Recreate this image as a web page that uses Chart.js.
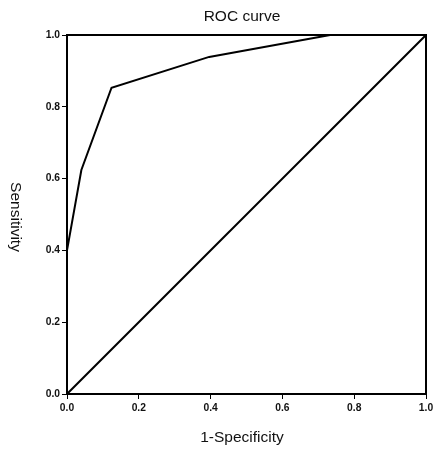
<!DOCTYPE html>
<html>
<head>
<meta charset="utf-8">
<script src="https://cdn.jsdelivr.net/npm/chart.js@4/dist/chart.umd.min.js"></script>
<style>
html,body{margin:0;padding:0;background:#fff;}
#wrap{width:447px;height:454px;position:relative;}
</style>
</head>
<body>
<div id="wrap"><canvas id="c" width="447" height="454"></canvas></div>
<script>
const rocFpr = [0, 0, 0.04, 0.124, 0.396, 0.733, 1];
const rocTpr = [0, 0.40, 0.624, 0.853, 0.939, 1, 1];
const refFpr = [0, 1];
const refTpr = [0, 1];
const tickValues = [0, 0.2, 0.4, 0.6, 0.8, 1.0];
const chartTitle = 'ROC curve';
const xTitle = '1-Specificity';
const yTitle = 'Sensitivity';

const toPts = (xs, ys) => xs.map((x, i) => ({x: x, y: ys[i]}));
const FONT = 'Liberation Sans, Arial, sans-serif';
const TITLE_FONT = '15.5px ' + FONT;

const frame = {
  id: 'frame',
  beforeDraw(chart) {
    const ctx = chart.ctx;
    ctx.save();
    ctx.fillStyle = '#fff';
    ctx.fillRect(0, 0, chart.width, chart.height);
    ctx.restore();
  },
  afterDatasetsDraw(chart) {
    const {ctx, chartArea: a} = chart;
    ctx.save();
    ctx.strokeStyle = '#000';
    ctx.lineWidth = 2;
    ctx.strokeRect(a.left, a.top, a.right - a.left, a.bottom - a.top);
    ctx.restore();
  },
  afterDraw(chart) {
    const {ctx, chartArea: a} = chart;
    const cx = (a.left + a.right) / 2 - 4.5;
    ctx.save();
    ctx.fillStyle = '#111';
    ctx.font = TITLE_FONT;
    ctx.textAlign = 'center';
    ctx.textBaseline = 'middle';
    ctx.fillText(chartTitle, cx, 17);
    ctx.fillText(xTitle, cx, 438);
    ctx.translate(15, (a.top + a.bottom) / 2 + 2.5);
    ctx.rotate(Math.PI / 2);
    ctx.fillText(yTitle, 0, 0);
    ctx.restore();
  }
};

const tickCommon = {
  color: '#111',
  font: {family: FONT, size: 10.3, weight: 'bold'},
  callback: v => Number(v).toFixed(1),
  autoSkip: false
};

new Chart(document.getElementById('c'), {
  type: 'line',
  data: {
    datasets: [
      {data: toPts(rocFpr, rocTpr), borderColor: '#000', borderWidth: 2, pointRadius: 0, tension: 0, fill: false},
      {data: toPts(refFpr, refTpr), borderColor: '#000', borderWidth: 2, pointRadius: 0, tension: 0, fill: false}
    ]
  },
  options: {
    responsive: false,
    animation: false,
    devicePixelRatio: 1,
    layout: {padding: {left: 0, right: 21, top: 35, bottom: 0}},
    plugins: {
      legend: {display: false},
      tooltip: {enabled: false},
      title: {display: false}
    },
    scales: {
      x: {
        type: 'linear', min: 0, max: 1,
        afterBuildTicks: s => { s.ticks = tickValues.map(v => ({value: v})); },
        afterFit: s => { s.height = 60; },
        ticks: Object.assign({padding: 3, maxRotation: 0}, tickCommon),
        grid: {drawOnChartArea: false, drawTicks: true, tickLength: 5, color: '#000', lineWidth: 1},
        border: {display: true, color: '#000', width: 2},
        title: {display: false}
      },
      y: {
        type: 'linear', min: 0, max: 1,
        afterBuildTicks: s => { s.ticks = tickValues.map(v => ({value: v})); },
        afterFit: s => { s.width = 67; },
        ticks: Object.assign({padding: 2}, tickCommon),
        grid: {drawOnChartArea: false, drawTicks: true, tickLength: 5, color: '#000', lineWidth: 1},
        border: {display: true, color: '#000', width: 2},
        title: {display: false}
      }
    }
  },
  plugins: [frame]
});
</script>
</body>
</html>
